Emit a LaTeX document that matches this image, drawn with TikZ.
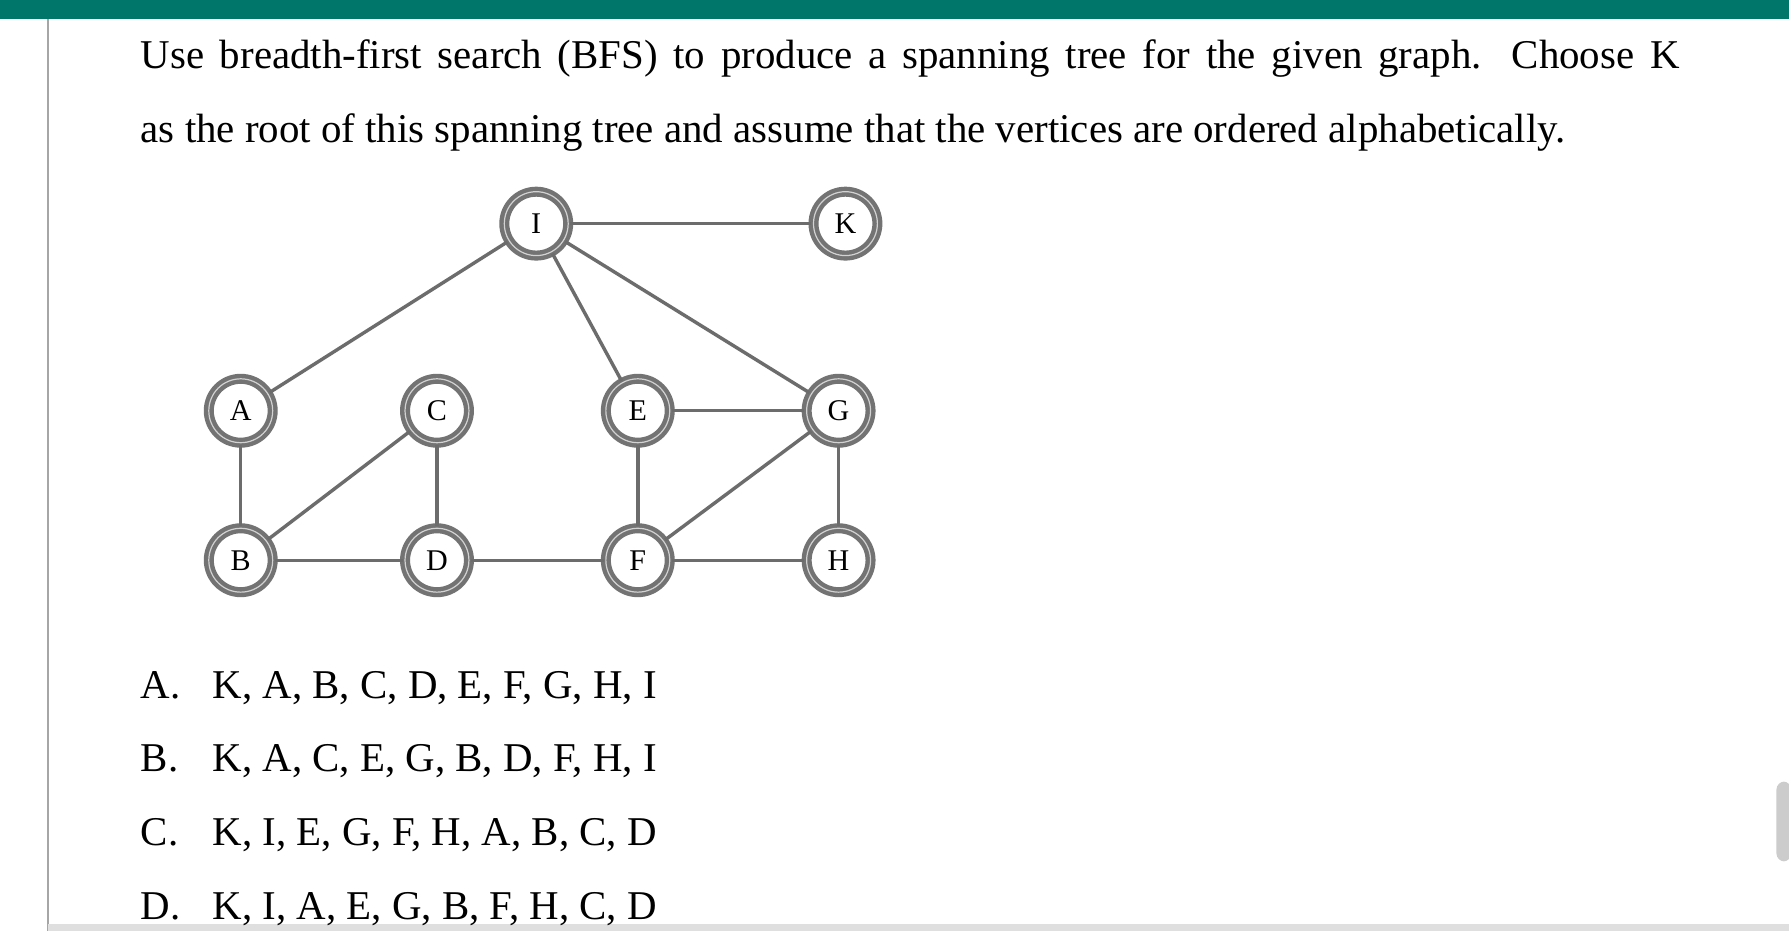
\documentclass[tikz,border=0pt]{standalone}
\usepackage{fontspec}
\setmainfont{Liberation Serif}
\begin{document}
\begin{tikzpicture}[x=0.02cm,y=-0.02cm,
  vert/.style={circle,draw=gray!90!black,line width=2.2pt,double=gray!35,double distance=0.6pt,fill=white,minimum size=1.12cm,inner sep=0pt,font=\fontsize{15pt}{15pt}\selectfont},
  edge/.style={draw=gray!85!black,line width=1.7pt},
  txt/.style={anchor=base west,inner sep=0pt,font=\fontsize{20.4pt}{24pt}\selectfont}]
\useasboundingbox (0,0) rectangle (1568,816);
\fill[white] (0,0) rectangle (1568,816);
\fill[fill={rgb,255:red,0;green,118;blue,106}] (0,0) rectangle (1568,17);
\draw[gray!70,line width=1pt] (42,17) -- (42,816);
\fill[gray!25] (42,810) rectangle (1568,816);
\fill[gray!40,rounded corners=4pt] (1557,685) rectangle (1570,755);
\node[txt] (l1) at (123,60) {\makebox[26.98cm][s]{Use breadth-first search (BFS) to produce a spanning tree for the given graph. Choose K}};
\node[txt] (l2) at (123,125) {as the root of this spanning tree and assume that the vertices are ordered alphabetically.};
\node[vert] (I) at (470,196) {I};
\node[vert] (K) at (741,196) {K};
\node[vert] (A) at (211,360) {A};
\node[vert] (C) at (383,360) {C};
\node[vert] (E) at (559,360) {E};
\node[vert] (G) at (735,360) {G};
\node[vert] (B) at (211,491) {B};
\node[vert] (D) at (383,491) {D};
\node[vert] (F) at (559,491) {F};
\node[vert] (H) at (735,491) {H};
\begin{scope}[on background layer/.style={}]
\end{scope}
\foreach \a/\b in {I/K,I/A,I/E,I/G,A/B,B/C,C/D,B/D,D/F,E/G,E/F,F/G,F/H,G/H}
  \path[edge] (\a) -- (\b);
\node[txt] (oa) at (123,612) {A.};
\node[txt] (ta) at (186,612) {K, A, B, C, D, E, F, G, H, I};
\node[txt] (ob) at (123,676) {B.};
\node[txt] (tb) at (186,676) {K, A, C, E, G, B, D, F, H, I};
\node[txt] (oc) at (123,741) {C.};
\node[txt] (tc) at (186,741) {K, I, E, G, F, H, A, B, C, D};
\node[txt] (od) at (123,806) {D.};
\node[txt] (td) at (186,806) {K, I, A, E, G, B, F, H, C, D};
\end{tikzpicture}
\end{document}
